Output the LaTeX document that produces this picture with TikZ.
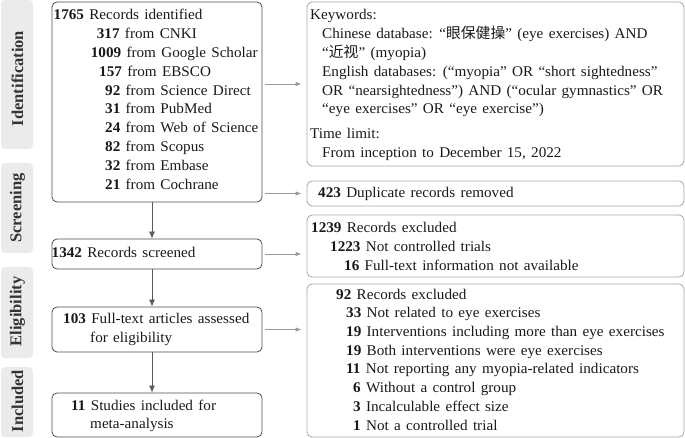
\documentclass[tikz,border=0pt]{standalone}
\usepackage{fontspec}
\setmainfont{Liberation Serif}[WordSpace=1.4, FakeStretch=1.025]
\newfontfamily\tagfont{Liberation Serif}
\newfontfamily\cjk{Noto Sans CJK SC}
\usetikzlibrary{arrows.meta}
\newcommand\mkbox[6]{\node[#2, minimum width={#5pt-#3pt}, minimum height={#6pt-#4pt}, inner sep=0pt] (#1) at ({(#3+#5)/2},{(#4+#6)/2}) {};}
\newcommand\myfont{\fontsize{14.8}{18.8}\selectfont}
\tikzset{
  lbox/.style={draw=black!70, rounded corners=5pt, line width=0.8pt},
  rbox/.style={draw=black!35, rounded corners=5pt, line width=0.8pt},
  tagbox/.style={fill=black!8, rounded corners=4pt},
  tagtext/.style={rotate=90, inner sep=0pt, text=black!80, font=\tagfont\bfseries\fontsize{16.5}{20}\selectfont},
  ln/.style={anchor=base west, inner sep=0pt, text=black!90},
  mainarr/.style={draw=black!65, line width=0.8pt, -{Latex[length=7pt,width=6pt]}, fill=black!85},
  sidearr/.style={draw=black!40, line width=0.8pt, -{Latex[length=6pt,width=4.5pt]}, shorten <=3pt, shorten >=5pt}
}
\begin{document}
\myfont
\begin{tikzpicture}[x=1pt,y=-1pt]
\useasboundingbox (0,0) rectangle (685,438);
% stage tags
\mkbox{T1}{tagbox}{1}{0}{33}{149}
\mkbox{T2}{tagbox}{1}{163}{33}{253}
\mkbox{T3}{tagbox}{1}{267}{33}{358}
\mkbox{T4}{tagbox}{1}{367}{33}{437}
\node[tagtext] (T1t) at ([xshift=0.5pt,yshift=-4pt]T1.center) {Identification};
\node[tagtext] (T2t) at ([xshift=0.5pt]T2.center) {Screening};
\node[tagtext] (T3t) at ([xshift=0.5pt,yshift=1pt]T3.center) {Eligibility};
\node[tagtext] (T4t) at ([xshift=0.5pt,yshift=1pt]T4.center) {Included};
% left boxes
\mkbox{B1}{lbox}{52}{2}{262}{202}
\mkbox{B2}{lbox}{52}{239}{262}{269}
\mkbox{B3}{lbox}{52}{307}{262}{352}
\mkbox{B4}{lbox}{52}{393}{262}{437}
% right boxes
\mkbox{R1}{rbox}{307}{2}{684}{166}
\mkbox{R2}{rbox}{307}{181}{684}{206}
\mkbox{R3}{rbox}{307}{215}{684}{277}
\mkbox{R4}{rbox}{307}{284}{684}{437}
% B1 text
\node[ln] (b1a) at (53.5,20) {\textbf{1765} Records identified};
\node[ln] (b1b) at (96.7,38.8) {\textbf{317} from CNKI};
\node[ln] (b1c) at (90.7,57.6) {\textbf{1009} from Google Scholar};
\node[ln] (b1d) at (99,76.4) {\textbf{157} from EBSCO};
\node[ln] (b1e) at (105,95.2) {\textbf{92} from Science Direct};
\node[ln] (b1f) at (105,114) {\textbf{31} from PubMed};
\node[ln] (b1g) at (105,132.8) {\textbf{24} from Web of Science};
\node[ln] (b1h) at (105,151.6) {\textbf{82} from Scopus};
\node[ln] (b1i) at (105,170.4) {\textbf{32} from Embase};
\node[ln] (b1j) at (105,189.2) {\textbf{21} from Cochrane};
% B2-B4 text
\node[ln] (b2a) at (51.5,258) {\textbf{1342} Records screened};
\node[ln] (b3a) at (63,323.5) {\textbf{103} Full-text articles assessed};
\node[ln] (b3b) at (90,342) {for eligibility};
\node[ln] (b4a) at (71,410) {\textbf{11} Studies included for};
\node[ln] (b4b) at (90,428) {meta-analysis};
% R1 text
\node[ln] (r1a) at (310,20) {Keywords:};
\node[ln] (r1b) at (322,38.8) {Chinese database: “{\cjk 眼保健操}” (eye exercises) AND};
\node[ln] (r1c) at (322,57.6) {“{\cjk 近视}” (myopia)};
\node[ln] (r1d) at (322,76.4) {English databases: (“myopia” OR “short sightedness”};
\node[ln] (r1e) at (322,95.2) {OR “nearsightedness”) AND (“ocular gymnastics” OR};
\node[ln] (r1f) at (322,114) {“eye exercises” OR “eye exercise”)};
\node[ln] (r1g) at (310,139) {Time limit:};
\node[ln] (r1h) at (322,157.8) {From inception to December 15, 2022};
% R2-R4 text
\node[ln] (r2a) at (318,198) {\textbf{423} Duplicate records removed};
\node[ln] (r3a) at (311,232.5) {\textbf{1239} Records excluded};
\node[ln] (r3b) at (330,251.5) {\textbf{1223} Not controlled trials};
\node[ln] (r3c) at (344,270.5) {\textbf{16} Full-text information not available};
\node[ln] (r4a) at (336,299) {\textbf{92} Records excluded};
\node[ln] (r4b) at (346,317.7) {\textbf{33} Not related to eye exercises};
\node[ln] (r4c) at (346,336.4) {\textbf{19} Interventions including more than eye exercises};
\node[ln] (r4d) at (346,355.1) {\textbf{19} Both interventions were eye exercises};
\node[ln] (r4e) at (346,373.8) {\textbf{11} Not reporting any myopia-related indicators};
\node[ln] (r4f) at (353,392.5) {\textbf{6} Without a control group};
\node[ln] (r4g) at (353,411.2) {\textbf{3} Incalculable effect size};
\node[ln] (r4h) at (353,430) {\textbf{1} Not a controlled trial};
% connectors
\draw[mainarr] ([xshift=-5pt]B1.south) -- ([xshift=-5pt]B2.north);
\draw[mainarr] ([xshift=-5pt]B2.south) -- ([xshift=-5pt]B3.north);
\draw[mainarr] ([xshift=-5pt]B3.south) -- ([xshift=-5pt]B4.north);
\draw[sidearr] (B1.east |- R1.west) -- (R1.west);
\draw[sidearr] (B1.east |- R2.west) -- (R2.west);
\draw[sidearr] (B2.east) -- (B2.east -| R3.west);
\draw[sidearr] (B3.east) -- (B3.east -| R4.west);
\end{tikzpicture}
\end{document}
